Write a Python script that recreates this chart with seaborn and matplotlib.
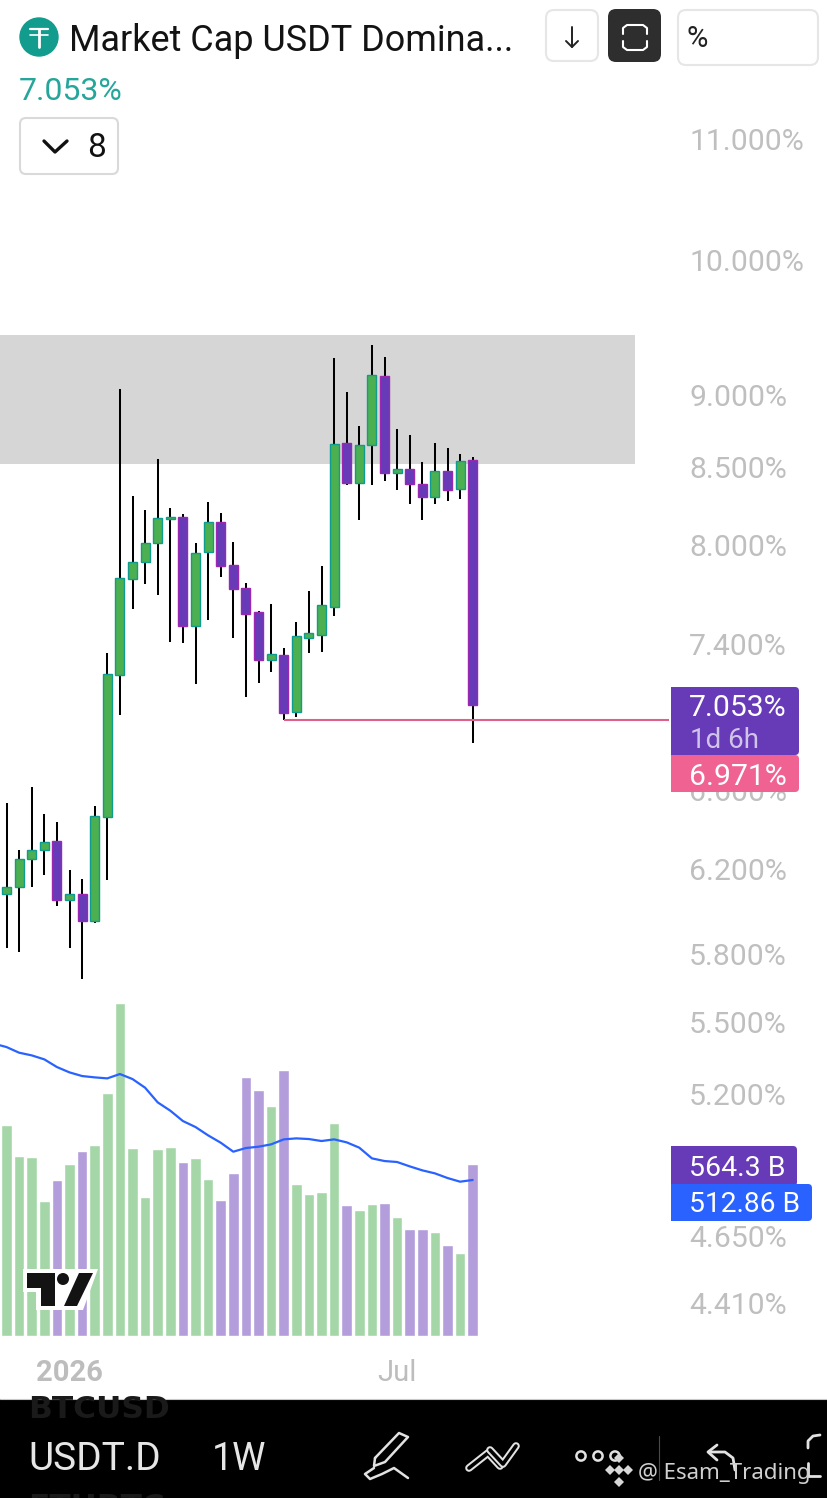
import matplotlib
matplotlib.use("Agg")
import matplotlib.pyplot as plt
from matplotlib.patches import Circle, FancyBboxPatch, Polygon, Rectangle
import numpy as np
import pandas as pd
import seaborn as sns

# weekly USDT.D candles, percent
opens = [6.081, 6.115, 6.251, 6.295, 6.339, 6.053, 6.081, 5.956, 6.460, 7.221,
         7.787, 7.892, 8.011, 8.162, 8.175, 7.506, 7.955, 8.142, 7.873, 7.733,
         7.588, 7.307, 7.336, 7.015, 7.434, 7.452, 7.618, 8.664, 8.396, 8.651,
         9.132, 8.463, 8.489, 8.389, 8.305, 8.476, 8.357, 8.550]
highs = [6.532, 6.295, 6.614, 6.475, 6.434, 6.197, 6.153, 6.516, 7.348, 9.039,
         8.311, 8.220, 8.556, 8.233, 8.194, 8.011, 8.272, 8.200, 8.017, 7.763,
         7.594, 7.636, 7.377, 7.529, 7.715, 7.867, 9.263, 9.018, 8.780, 9.358,
         9.270, 8.759, 8.718, 8.536, 8.664, 8.631, 8.590, 8.570]
lows = [5.829, 5.811, 6.115, 6.172, 6.025, 5.829, 5.688, 5.947, 6.148, 6.999,
        7.606, 7.757, 7.690, 7.411, 7.405, 7.171, 7.541, 7.799, 7.434, 7.099,
        7.176, 7.238, 6.971, 6.988, 7.348, 7.353, 7.564, 8.383, 8.155, 8.383,
        8.409, 8.350, 8.259, 8.155, 8.259, 8.278, 8.292, 6.847]
closes = [6.115, 6.251, 6.295, 6.335, 6.053, 6.081, 5.956, 6.465, 7.227, 7.793,
          7.892, 8.011, 8.168, 8.175, 7.506, 7.948, 8.142, 7.867, 7.727, 7.576,
          7.307, 7.342, 7.010, 7.446, 7.464, 7.630, 8.658, 8.396, 8.651, 9.139,
          8.463, 8.489, 8.389, 8.305, 8.476, 8.350, 8.543, 7.053]

# volume in billions and its moving average (the average starts one week earlier)
volumes = [693.5, 590.5, 587.2, 444.8, 511.6, 565.3, 606.9, 628.8, 799.7, 1095.5,
           616.8, 455.7, 613.5, 621.1, 572.9, 585.0, 517.1, 447.0, 535.7, 850.1,
           809.6, 755.9, 873.1, 499.5, 465.6, 473.3, 700.0, 431.6, 415.2, 434.9,
           437.1, 390.0, 351.7, 351.7, 341.8, 298.0, 271.7, 564.3]
volume_ma = [960.8, 949.8, 931.2, 922.4, 909.3, 884.1, 866.5, 854.5, 850.1, 846.8,
             861.1, 844.6, 816.1, 767.9, 740.6, 706.6, 686.9, 659.5, 635.4, 605.8,
             617.9, 622.2, 629.9, 646.3, 649.6, 647.4, 640.9, 646.3, 636.5, 619.0,
             583.9, 575.1, 571.9, 557.6, 544.5, 534.6, 519.3, 507.2, 512.86]

price_ticks = [11.0, 10.0, 9.0, 8.5, 8.0, 7.4, 6.6, 6.2, 5.8, 5.5, 5.2, 4.65, 4.41]
zone_low, zone_high = 8.523, 9.432
swing_low = 6.971

W, H = 828, 1498
WEEK_PX = 12.6
X0_PX = 6.5
GREEN, GREEN_EDGE = "#4caf50", "#0f9b8e"
PURPLE, PURPLE_EDGE = "#673ab7", "#9c27b0"
FONT = "Roboto"


def px_box(ax, x0, y0, x1, y1, face, edge="none", lw=0, r=5):
    ax.add_patch(FancyBboxPatch((x0, y0), x1 - x0, y1 - y0, facecolor=face, edgecolor=edge,
                                linewidth=lw, boxstyle=f"round,pad=0,rounding_size={r}"))


def draw_price(ax):
    weeks = np.arange(len(opens))
    o, c = np.array(opens), np.array(closes)
    up = c >= o
    ax.axhspan(zone_low, zone_high, xmin=0, xmax=635 / W, color="#d6d6d6", lw=0, zorder=1)
    ax.vlines(weeks, lows, highs, color="black", lw=1.45, zorder=2)
    ax.bar(weeks, np.abs(c - o), bottom=np.minimum(o, c), width=0.7, linewidth=1.0, zorder=3,
           color=[GREEN if u else PURPLE for u in up],
           edgecolor=[GREEN_EDGE if u else PURPLE_EDGE for u in up])
    ax.hlines(swing_low, 22, 52.54, color="#e0608c", lw=1.5, zorder=2)

    ax.set_yscale("log")
    ax.set_xlim(-X0_PX / WEEK_PX, (W - X0_PX) / WEEK_PX)
    ax.set_ylim(11 * np.exp(-(H - 139) / 1274), 11 * np.exp(139 / 1274))
    ax.set_yticks(price_ticks, [f"{t:.3f}%" for t in price_ticks])
    ax.minorticks_off()
    ax.tick_params(axis="y", length=0, left=False, labelleft=False, labelright=True, pad=-100,
                   labelsize=21.7, labelcolor="#bfbfbf")
    ax.set_xticks([5, 31], ["2026", "Jul"])
    ax.tick_params(axis="x", length=0, pad=-100, labelsize=21, labelcolor="#bdbdbd")
    ax.get_xticklabels()[0].set_fontweight("bold")
    sns.despine(ax=ax, left=True, bottom=True)


def draw_volume(ax):
    df = pd.DataFrame({"week": np.arange(len(volumes)), "volume": volumes,
                       "dir": ["up" if c >= o else "down" for o, c in zip(opens, closes)]})
    sns.barplot(data=df, x="week", y="volume", hue="dir", native_scale=True, dodge=False, width=0.84,
                palette={"up": "#a5d6a7", "down": "#b39ddb"}, saturation=1, legend=False, ax=ax)
    ma = pd.DataFrame({"week": np.arange(-1, len(volumes)), "ma": volume_ma})
    sns.lineplot(data=ma, x="week", y="ma", color="#2962ff", lw=1.6, ax=ax)
    ax.set_xlim(-X0_PX / WEEK_PX, (W - X0_PX) / WEEK_PX)
    ax.set_ylim(0, 336 * 3.287)
    ax.axis("off")


def draw_ui(ax):
    ax.set_xlim(0, W)
    ax.set_ylim(H, 0)
    ax.axis("off")

    # header
    ax.add_patch(Circle((39, 37), 19, color="#119c8d"))
    ax.plot([30, 48], [29, 29], color="white", lw=1.6)
    ax.plot([39, 39], [29, 47], color="white", lw=2)
    ax.plot([30, 48], [35, 35], color="white", lw=1.2)
    ax.text(69, 41, "Market Cap USDT Domina...", fontsize=25.9, color="#131313", va="center")
    ax.text(19, 91, "7.053%", fontsize=23, color="#26a69a", va="center")
    px_box(ax, 546, 10, 598, 61, "white", "#e6e6e6", 1.5, 8)
    ax.plot([572, 572], [27, 47], color="#222222", lw=1.4)
    ax.plot([566, 572, 578], [41, 47, 41], color="#222222", lw=1.4)
    px_box(ax, 608, 9, 661, 62, "#2e2e2e", r=8)
    ax.plot([623, 623, 627, 643, 647, 647], [34, 28, 25, 25, 28, 34], color="white", lw=1.5)
    ax.plot([623, 623, 627, 643, 647, 647], [41, 47, 50, 50, 47, 41], color="white", lw=1.5)
    px_box(ax, 678, 10, 818, 65, "white", "#e6e6e6", 1.5, 8)
    ax.text(687, 39, "%", fontsize=21, color="#222222", va="center")
    px_box(ax, 20, 118, 118, 174, "white", "#d9d9d9", 1.5, 6)
    ax.plot([44, 55, 67], [141, 152, 141], color="#111111", lw=2.4)
    ax.text(97, 148, "8", fontsize=24, color="#111111", ha="center", va="center")

    # price and volume tags
    px_box(ax, 671, 687, 799, 755, "#673ab7", r=4)
    ax.add_patch(Rectangle((671, 687), 10, 68, color="#673ab7", lw=0))
    px_box(ax, 671, 755, 799, 792, "#f06292", r=4)
    ax.add_patch(Rectangle((671, 755), 10, 37, color="#f06292", lw=0))
    ax.text(689, 708, "7.053%", fontsize=21.7, color="white", va="center")
    ax.text(690, 740, "1d 6h", fontsize=20, color="#d1c4e9", va="center")
    ax.text(689, 777, "6.971%", fontsize=21.7, color="white", va="center")
    px_box(ax, 671, 1146, 797, 1186, "#673ab7", r=4)
    ax.add_patch(Rectangle((671, 1146), 10, 40, color="#673ab7", lw=0))
    px_box(ax, 671, 1184, 812, 1221, "#2962ff", r=4)
    ax.add_patch(Rectangle((671, 1184), 10, 37, color="#2962ff", lw=0))
    ax.text(689, 1168, "564.3 B", fontsize=20.5, color="white", va="center")
    ax.text(689, 1205, "512.86 B", fontsize=20.3, color="white", va="center")

    # TradingView mark
    ax.add_patch(Polygon([(23, 1269), (98, 1269), (83, 1310), (36, 1310), (36, 1292), (23, 1292)],
                         color="white", lw=0))
    ax.add_patch(Polygon([(27, 1273), (55, 1273), (55, 1306), (41, 1306), (41, 1288), (27, 1288)],
                         color="#131313", lw=0))
    ax.add_patch(Circle((63, 1279), 6, color="#131313", lw=0))
    ax.add_patch(Polygon([(79, 1273), (93, 1273), (77, 1306), (64, 1306)], color="#131313", lw=0))

    # bottom toolbar
    ax.add_patch(Rectangle((0, 1398.5), W, H - 1398.5, color="black", lw=0))
    ax.plot([0, W], [1398.5, 1398.5], color="#c8c8c8", lw=0.8)
    ghost = dict(fontsize=22.5, color="#1a1a1a", va="center", family="DejaVu Sans", weight="bold", clip_on=True)
    ax.text(28, 1410, "BTCUSD", **ghost)
    ax.text(28, 1508, "ETHBTC", **ghost)
    ax.text(28, 1460, "USDT.D", fontsize=28, color="#e6e6e6", va="center")
    ax.text(212, 1460, "1W", fontsize=27, color="#e6e6e6", va="center")
    ui = "#e2e2e2"
    ax.plot([375, 399, 408, 385, 374, 375], [1458, 1433, 1437, 1462, 1466, 1458], color=ui, lw=1.8)
    ax.plot([374, 365, 370, 382, 394, 408], [1468, 1474, 1479, 1474, 1468, 1478], color=ui, lw=1.8)
    for xs, ys in (([469, 488, 500], [1468, 1453, 1466]), ([490, 503, 516], [1450, 1464, 1446])):
        ax.plot(xs, ys, color=ui, lw=5.5, solid_capstyle="round")
        ax.plot(xs, ys, color="black", lw=2.6, solid_capstyle="round")
    for cx in (581, 598, 615):
        ax.add_patch(Circle((cx, 1456), 4.6, facecolor="none", edgecolor=ui, lw=1.8))
    ax.plot([659.5, 659.5], [1436, 1480], color="#4a4a4a", lw=0.8)
    ax.plot([735, 733, 725, 709], [1470, 1458, 1452, 1452], color=ui, lw=2)
    ax.plot([717, 708, 717], [1445, 1452, 1460], color=ui, lw=2)
    ax.plot([808, 808, 813, 820], [1448, 1441, 1436, 1435], color=ui, lw=2)
    ax.plot([808, 808, 820], [1463, 1476, 1476], color=ui, lw=2)
    for cx, cy in ((619, 1458), (610, 1470), (628, 1470), (619, 1482), (619, 1470)):
        ax.add_patch(Polygon([(cx, cy - 5), (cx + 5, cy), (cx, cy + 5), (cx - 5, cy)], color="#d8d8d8", lw=0))
    ax.text(638, 1473, "@ Esam_Trading", fontsize=16, family="Noto Sans", color="#d0d0d0", va="center")


sns.set_theme(style="white")
plt.rcParams["font.family"] = [FONT, "DejaVu Sans"]

fig = plt.figure(figsize=(W / 100, H / 100), dpi=100, facecolor="white")
ax_price = fig.add_axes([0, 0, 1, 1])
ax_vol = fig.add_axes([0, (H - 1336) / H, 1, 336 / H])
ax_vol.patch.set_alpha(0)
ax_ui = fig.add_axes([0, 0, 1, 1])
ax_ui.patch.set_alpha(0)

draw_price(ax_price)
draw_volume(ax_vol)
draw_ui(ax_ui)

fig.savefig("out.png", dpi=100)
